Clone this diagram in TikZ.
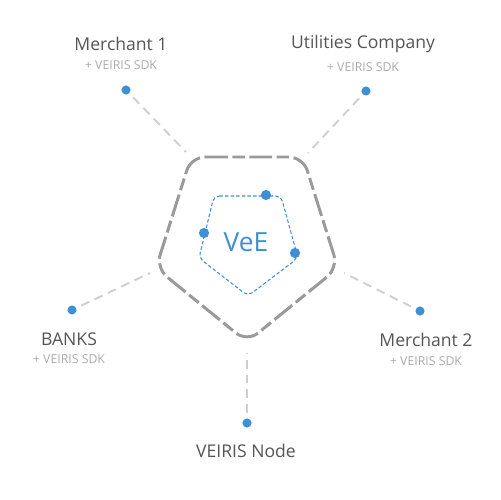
\documentclass[tikz,border=0pt]{standalone}
\usepackage{fontspec}
\setmainfont{Open Sans}
\usetikzlibrary{positioning}

\definecolor{veblue}{HTML}{3F8FD4}
\definecolor{rimgray}{HTML}{9A9A9A}
\definecolor{linkgray}{HTML}{CFCFCF}
\definecolor{namegray}{HTML}{555555}
\definecolor{sdkgray}{HTML}{ABABAB}

\tikzset{
  party/.style={text=namegray,font=\fontsize{10}{12}\selectfont,inner sep=0pt},
  sdk/.style={text=sdkgray,font=\fontsize{7}{8}\selectfont,inner sep=0pt},
  dot/.style={circle,fill=veblue,inner sep=0pt,minimum size=5.2pt},
  link/.style={linkgray,line width=1.1pt,dash pattern=on 5pt off 3.4pt,shorten <=3pt},
  rim/.style={rimgray,line width=1.7pt,rounded corners=8pt,dash pattern=on 13pt off 2.6pt on 7pt off 2.6pt},
  core/.style={veblue,line width=0.6pt,rounded corners=3pt,dash pattern=on 2pt off 1.2pt}
}

\begin{document}
\begin{tikzpicture}[x=0.02cm,y=-0.02cm]
  \useasboundingbox (0,0) rectangle (500,500);

  % the outer ring and the VeE core
  \draw[rim] (191,157) -- (303,157) -- (338,268) -- (247,342) -- (156,268) -- cycle;
  \draw[core] (214,196) -- (281,196) -- (298,258) -- (248,296) -- (199,258) -- cycle;
  \node[text=veblue,font=\fontsize{15}{18}\selectfont] (vee) at (246,242) {VeE};
  \node[dot,minimum size=5.8pt] (core1) at (266,195) {};
  \node[dot,minimum size=5.8pt] (core2) at (204,233) {};
  \node[dot,minimum size=5.8pt] (core3) at (295,253) {};

  % parties round the ring
  \node[party] (merch1) at (121,44) {Merchant 1};
  \node[sdk,below=5pt of merch1] (merch1sdk) {+ VEIRIS SDK};
  \node[party] (utility) at (363,44) {Utilities Company};
  \node[sdk,below=5pt of utility] (utilitysdk) {+ VEIRIS SDK};
  \node[party] (banks) at (69,339) {BANKS};
  \node[sdk,below=5pt of banks] (bankssdk) {+ VEIRIS SDK};
  \node[party] (merch2) at (426,340) {Merchant 2};
  \node[sdk,below=5pt of merch2] (merch2sdk) {+ VEIRIS SDK};
  \node[party] (vnode) at (246,451) {VEIRIS Node};

  % dots and dashed links to the ring
  \node[dot] (merch1dot) at (126,90) {};
  \node[dot] (utilitydot) at (366,91) {};
  \node[dot] (banksdot) at (72,310) {};
  \node[dot] (merch2dot) at (420,311) {};
  \node[dot] (vnodedot) at (247,423) {};
  \coordinate (merch1end) at (186,152);
  \coordinate (utilityend) at (308,153);
  \coordinate (banksend) at (150,273);
  \coordinate (merch2end) at (344,273);
  \coordinate (vnodeend) at (247,353);
  \draw[link] (merch1dot) -- (merch1end);
  \draw[link] (utilitydot) -- (utilityend);
  \draw[link] (banksdot) -- (banksend);
  \draw[link] (merch2dot) -- (merch2end);
  \draw[link] (vnodedot) -- (vnodeend);
\end{tikzpicture}
\end{document}
